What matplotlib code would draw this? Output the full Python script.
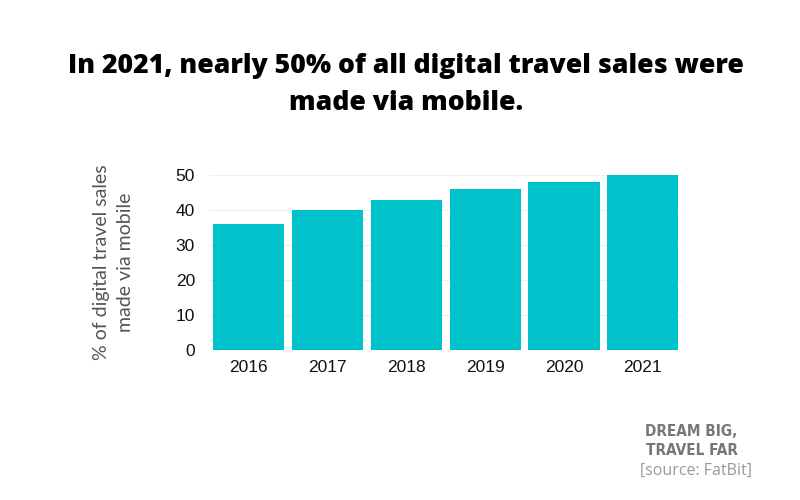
import matplotlib.pyplot as plt

# data
years = ['2016', '2017', '2018', '2019', '2020', '2021']
mobile_share = [36, 40, 43, 46, 48, 50]

fig = plt.figure(figsize=(8, 5), dpi=100)
ax = fig.add_axes([0.261, 0.30, 0.592, 0.35])

ax.bar(years, mobile_share, width=0.9, color='#00C2CB', zorder=2)
ax.set_ylim(0, 50)
ax.set_xlim(-0.5, len(years) - 0.5)
ax.set_yticks([0, 10, 20, 30, 40, 50])
ax.grid(axis='y', color='#eeeeee', linewidth=0.8, zorder=0)
for s in ax.spines.values():
    s.set_visible(False)
ax.tick_params(length=0, labelsize=12.5, colors='#111111', pad=7)
ax.tick_params(axis='y', pad=10)
for lab in ax.get_xticklabels() + ax.get_yticklabels():
    lab.set_family('Liberation Sans')

ax.set_ylabel('% of digital travel sales\nmade via mobile', fontsize=14,
              family='Lato', fontweight='normal', color='#555555', labelpad=30,
              linespacing=1.5)

fig.text(0.507, 0.831, 'In 2021, nearly 50% of all digital travel sales were\nmade via mobile.',
         ha='center', va='center', fontsize=19.2, family='Open Sans',
         fontweight='heavy', linespacing=1.55)

fig.text(0.922, 0.118, 'DREAM BIG,\nTRAVEL FAR', ha='right', va='center',
         fontsize=11, family='DejaVu Sans', fontweight='bold',
         color='#777777', linespacing=1.3, fontstretch='condensed')
fig.text(0.94, 0.058, '[source: FatBit]', ha='right', va='center',
         fontsize=11.5, family='Open Sans', color='#999999')

plt.savefig('out.png', dpi=100)
